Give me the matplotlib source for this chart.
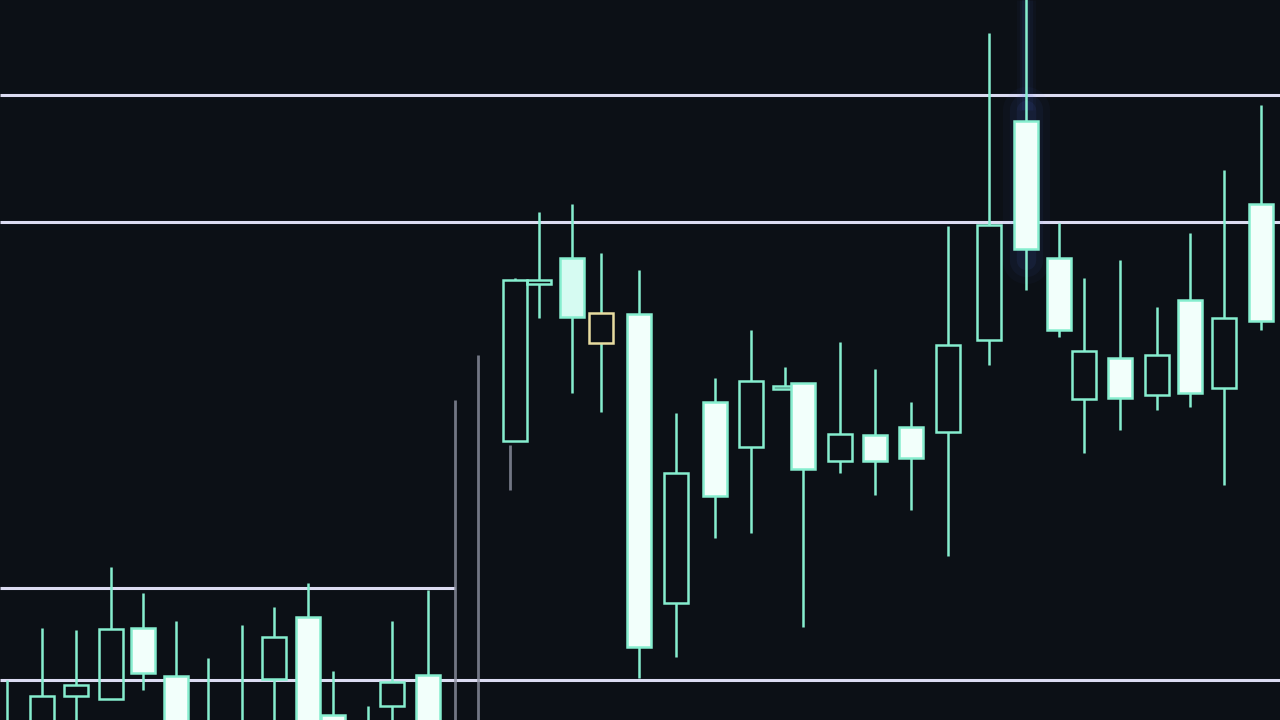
import numpy as np
import matplotlib.pyplot as plt

# candle time positions and prices (price scale is arbitrary)
t     = [7, 42, 76, 111, 143, 176, 208, 242, 274, 308, 333, 368, 392, 428,
         515, 539, 572, 601, 639, 676, 715, 751, 785, 803, 840, 875, 911,
         948, 989, 1026, 1059, 1084, 1120, 1157, 1190, 1224, 1261]
high  = [40, 92, 90, 153, 127, 99, 62, 95, 113, 137, 49, 14, 99, 130,
         442, 508, 516, 467, 450, 307, 342, 390, 353, 337, 378, 351, 318,
         494, 687, 730, 497, 442, 460, 413, 487, 550, 615]
open_ = [-30, -20, 24, 21, 92, 44, -30, -30, 41, 103, 5, -30, 14, 45,
         279, 436, 462, 377, 406, 117, 318, 273, 331, 337, 259, 285, 293,
         288, 380, 599, 462, 321, 362, 325, 420, 332, 516]
close = [-10, 24, 35, 91, 47, -20, -10, -10, 83, -20, -30, -10, 38, -20,
         440, 440, 403, 407, 73, 247, 224, 339, 334, 251, 286, 259, 262,
         375, 495, 471, 390, 369, 322, 365, 327, 402, 399]
low   = [-40, -40, -20, 21, 30, -40, -40, -40, -20, -40, -40, -40, -20, -40,
         279, 402, 327, 308, 42, 63, 182, 187, 331, 93, 247, 225, 210,
         164, 355, 430, 383, 267, 290, 310, 313, 235, 390]

# support / resistance levels: (price, start, end)
levels = [(625, 0, 1280), (498, 0, 1280), (132, 0, 455), (40, 0, 1280)]
# faded vertical traces: (time, from, to)
traces = [(455, 0, 320), (478, 0, 365), (510, 230, 275)]

bg = '#0c1016'
mint = '#86eecf'
fill = '#f2fffb'

fig = plt.figure(figsize=(12.8, 7.2), dpi=100)
fig.patch.set_facecolor(bg)
ax = fig.add_axes([0, 0, 1, 1])
ax.set_facecolor(bg)
ax.set_xlim(0, 1280)
ax.set_ylim(0, 720)
ax.axis('off')

for p, a, b in levels:
    ax.hlines(p, a, b, color='#dcdcf2', lw=2.2, zorder=1)
for x, a, b in traces:
    ax.vlines(x, a, b, color='#8d90a0', lw=2, alpha=0.8, zorder=1)

# soft glow around the tall candle
for w, al in [(34, 0.03), (24, 0.05), (14, 0.07)]:
    ax.vlines(1026, 460, 610, color='#5a7cff', lw=w, alpha=al, zorder=1,
              capstyle='round')
    ax.vlines(1026, 610, 720, color='#5a7cff', lw=w * 0.4, alpha=al, zorder=1)

t = np.array(t)
o = np.array(open_)
c = np.array(close)
top = np.maximum(o, c)
bot = np.minimum(o, c)
up = c > o

ax.vlines(t, top, high, color=mint, lw=1.8, zorder=2)
ax.vlines(t, low, bot, color=mint, lw=1.8, zorder=2)

edge = [mint] * len(t)
edge[17] = '#e8dca0'
face = [('none' if u else fill) for u in up]
face[16] = '#d6fbf2'
ax.bar(t, top - bot, bottom=bot, width=24, color=face, edgecolor=edge,
       linewidth=1.8, zorder=3)

fig.savefig('out.png', dpi=100, facecolor=bg)
